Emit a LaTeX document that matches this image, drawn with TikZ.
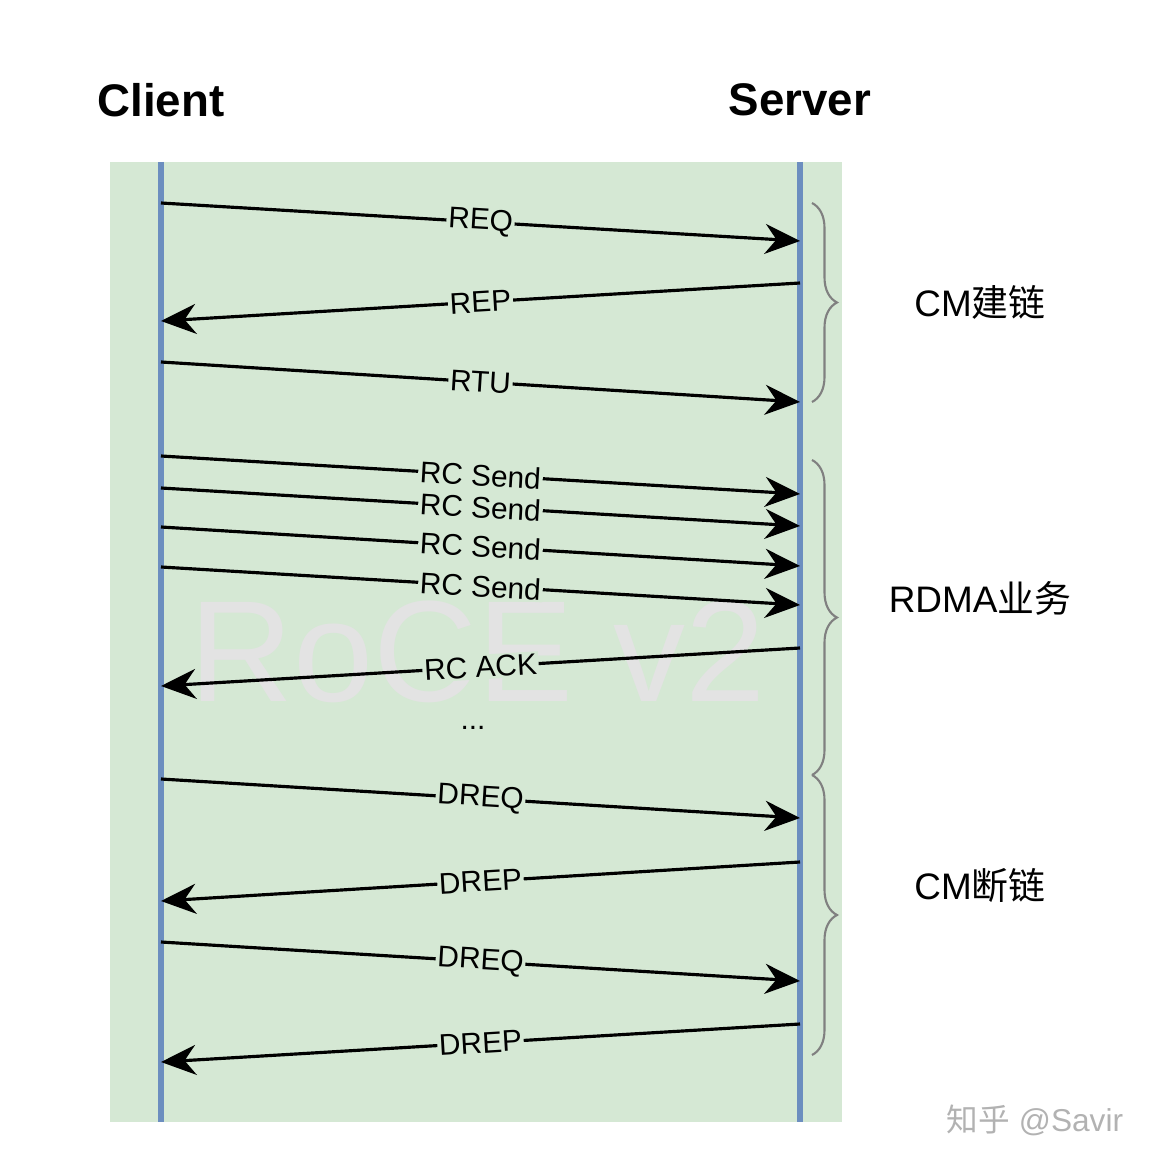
\documentclass[tikz,border=0pt]{standalone}
\usepackage{fontspec}
\setmainfont{Liberation Sans}
\newfontfamily\cjk{Noto Sans CJK SC}
\usetikzlibrary{arrows.meta}
\usetikzlibrary{decorations.pathreplacing}
\definecolor{lanebg}{HTML}{D5E8D4}
\definecolor{laneline}{HTML}{6C8EBF}
\tikzset{
  msg/.style={line width=1.8pt, -{Stealth[length=7mm, width=6mm]}},
  msglabel/.style={sloped, fill=lanebg, inner sep=1pt, font=\fontsize{17}{19}\selectfont},
  phase/.style={decorate, decoration={brace, amplitude=5mm}, draw=gray, line width=1.2pt},
  phaselabel/.style={font=\fontsize{21}{25}\selectfont}
}
\begin{document}
\begin{tikzpicture}[x=0.02cm, y=-0.02cm]
    \useasboundingbox (0,0) rectangle (1164,1168);
    % Lane background
    \fill[lanebg] (110,162) rectangle (842,1122);
    % Watermark
    \node[text=gray!22, font=\fontsize{82}{90}\selectfont] (mark) at (478,652) {RoCE v2};
    % Titles
    \node[font=\bfseries\fontsize{26}{30}\selectfont] (client) at (161,100) {Client};
    \node[font=\bfseries\fontsize{26}{30}\selectfont] (server) at (800,100) {Server};
    % Life lines
    \coordinate (ctop) at (161,162); \coordinate (cbot) at (161,1122);
    \coordinate (stop) at (800,162); \coordinate (sbot) at (800,1122);
    \draw[laneline, line width=3pt] (ctop) -- (cbot);
    \draw[laneline, line width=3pt] (stop) -- (sbot);
    % Messages: y at start / y at end / label / direction (1 = to server)
    \foreach \i/\ya/\yb/\txt/\dir in {1/203/241/REQ/1, 2/283/321/REP/0, 3/362/402/RTU/1,
        4/456/494/RC Send/1, 5/488/526/RC Send/1, 6/527/566/RC Send/1, 7/567/605/RC Send/1,
        8/648/686/RC ACK/0, 9/779/818/DREQ/1, 10/862/901/DREP/0, 11/942/981/DREQ/1, 12/1024/1062/DREP/0}{
        \ifnum\dir=1
            \coordinate (a\i) at (161,\ya); \coordinate (b\i) at (800,\yb);
        \else
            \coordinate (a\i) at (800,\ya); \coordinate (b\i) at (161,\yb);
        \fi
        \draw[msg] (a\i) -- node[msglabel] {\txt} (b\i);
    }
    \node[font=\fontsize{17}{19}\selectfont] (dots) at (473,728) {...};
    % Phases
    \draw[phase] (812,203) -- (812,402);
    \draw[phase] (812,460) -- (812,775);
    \draw[phase] (812,775) -- (812,1055);
    \node[phaselabel] (setup) at (980,302) {CM{\cjk 建链}};
    \node[phaselabel] (rdma) at (980,598) {RDMA{\cjk 业务}};
    \node[phaselabel] (teardown) at (980,886) {CM{\cjk 断链}};
    % Credit
    \node[text=gray!60, font=\fontsize{18}{20}\selectfont] (credit) at (1035,1120) {{\cjk 知乎} @Savir};
\end{tikzpicture}
\end{document}
